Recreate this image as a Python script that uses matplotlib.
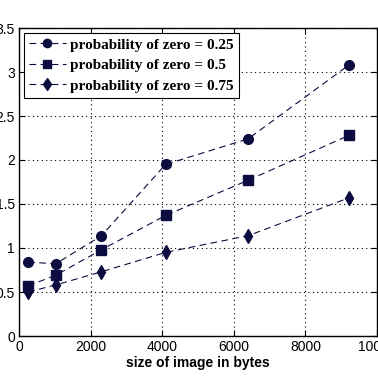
import matplotlib.pyplot as plt

# image sizes (bytes) and results for each probability of zero
sizes = [256, 1024, 2304, 4096, 6400, 9216]
p025 = [0.84, 0.82, 1.14, 1.95, 2.24, 3.08]
p050 = [0.57, 0.69, 0.98, 1.37, 1.77, 2.28]
p075 = [0.50, 0.58, 0.73, 0.95, 1.14, 1.57]
labels = ["probability of zero = 0.25", "probability of zero = 0.5",
          "probability of zero = 0.75"]

navy = "#0c0c40"

fig = plt.figure(figsize=(3.78, 3.78), dpi=100)
ax = fig.add_axes([19 / 378, 1 - 336 / 378, 358 / 378, 308 / 378])

for ys, mk, lab in [(p025, "o", labels[0]),
                    (p050, "s", labels[1]),
                    (p075, "d", labels[2])]:
    ax.plot(sizes, ys, color=navy, linestyle=(0, (6, 4)), linewidth=0.8,
            marker=mk, markersize=7, markerfacecolor=navy,
            markeredgecolor=navy, label=lab)

ax.set_xlim(0, 10000)
ax.set_ylim(0, 3.5)
ax.set_xticks([0, 2000, 4000, 6000, 8000, 10000])
ax.set_yticks([0, 0.5, 1, 1.5, 2, 2.5, 3, 3.5])
ax.set_yticklabels(["0", "0.5", "1", "1.5", "2", "2.5", "3", "3.5"])
ax.grid(True, color="black", linestyle=(0, (1, 3)), linewidth=0.8)
ax.tick_params(direction="in", top=True, right=True, length=4,
               labelsize=10, pad=3)
for t in ax.get_xticklabels() + ax.get_yticklabels():
    t.set_family("Liberation Sans")
for s in ax.spines.values():
    s.set_linewidth(1.0)

ax.set_xlabel("size of image in bytes", fontsize=10, fontweight="bold",
              family="Liberation Sans", labelpad=1)

leg = ax.legend(loc="upper left", prop={"family": "Liberation Serif",
                                        "weight": "bold", "size": 11},
                frameon=True, fancybox=False, edgecolor="black",
                framealpha=1, borderaxespad=0.3, handlelength=2.4,
                labelspacing=0.45, borderpad=0.35, handletextpad=0.3,
                markerscale=0.85)
leg.get_frame().set_linewidth(0.8)

fig.savefig("out.png", dpi=100)
